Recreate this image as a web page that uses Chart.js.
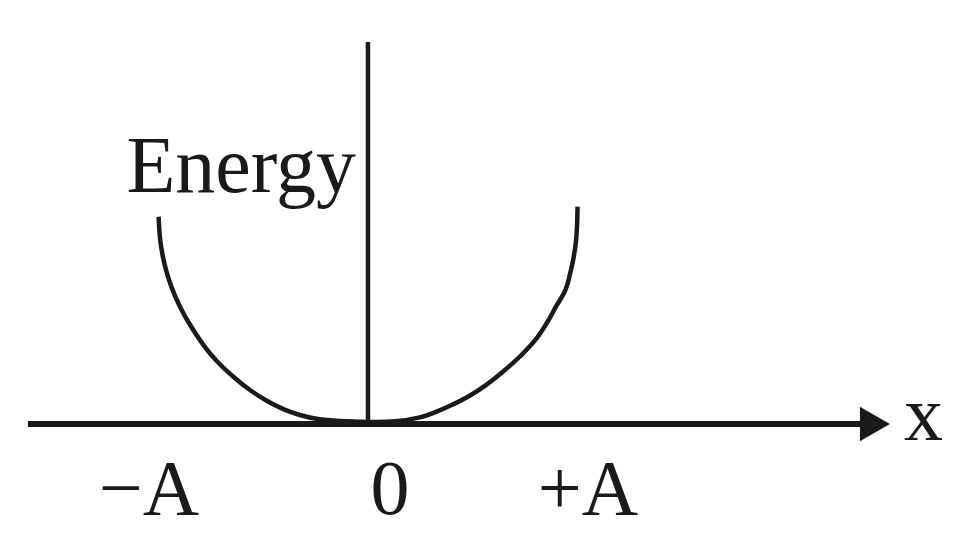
<!DOCTYPE html>
<html>
<head>
<meta charset="utf-8">
<title>Energy vs x</title>
<script src="https://cdn.jsdelivr.net/npm/chart.js@4.4.1/dist/chart.umd.min.js"></script>
<style>
  html, body { margin: 0; padding: 0; background: #ffffff; }
  #wrap { width: 964px; height: 557px; position: relative; }
</style>
</head>
<body>
<div id="wrap"><canvas id="energyChart"></canvas></div>
<script>
// curve, x in units of A, energy in the same units
const curveX = [-0.997, -0.990, -0.978, -0.959, -0.933, -0.899, -0.856, -0.783, -0.720, -0.641, -0.562,
                -0.482, -0.403, -0.324, -0.245, -0.133, 0,
                0.129, 0.248, 0.327, 0.406, 0.486, 0.565, 0.644, 0.726, 0.795, 0.851, 0.895,
                0.940, 0.963, 0.980, 0.991, 0.996, 0.998];
const curveY = [0.987, 0.884, 0.805, 0.725, 0.646, 0.567, 0.487, 0.376, 0.300, 0.225, 0.162,
                0.111, 0.071, 0.043, 0.025, 0.014, 0.010,
                0.013, 0.032, 0.059, 0.094, 0.136, 0.188, 0.250, 0.324, 0.398, 0.480, 0.559,
                0.638, 0.718, 0.797, 0.876, 0.956, 1.035];

// axis extents
const xAxisFrom = -1.619;
const xAxisTo = 2.36;
const arrowAt = 2.39;
const yAxisTop = 1.819;

// tick labels under the x axis
const tickValues = [-1, 0, 1];
const tickLabels = ['\u2212A', '0', '+A'];
const axisLabel = 'x';
const curveLabel = 'Energy';

const ink = '#1c1a19';

document.addEventListener("DOMContentLoaded", function() {
    const ctx = document.getElementById("energyChart").getContext("2d");

    const curvePoints = curveX.map((x, i) => ({ x: x, y: curveY[i] }));

    // text is drawn after the datasets, placed with the chart's own scales
    const labelPlugin = {
        id: 'labels',
        afterDatasetsDraw(chart) {
            const c = chart.ctx;
            const xs = chart.scales.x;
            const ys = chart.scales.y;
            const nudge = [-9, 22, 10];
            c.save();
            c.fillStyle = ink;
            c.font = '78px "Liberation Serif", "Times New Roman", serif';
            c.textBaseline = 'alphabetic';

            c.textAlign = 'center';
            tickValues.forEach((v, i) => {
                c.fillText(tickLabels[i], xs.getPixelForValue(v) + nudge[i], ys.getPixelForValue(0) + 90);
            });

            c.textAlign = 'left';
            c.fillText(axisLabel, xs.getPixelForValue(arrowAt) + 34, ys.getPixelForValue(0) + 16);

            c.font = '80px "Liberation Serif", "Times New Roman", serif';
            c.textAlign = 'right';
            c.fillText(curveLabel, xs.getPixelForValue(0) - 12, ys.getPixelForValue(1.105));
            c.restore();
        }
    };

    new Chart(ctx, {
        type: 'line',
        data: {
            datasets: [{
                label: 'Energy',
                data: curvePoints,
                borderColor: ink,
                borderWidth: 4.5,
                tension: 0.4,
                pointRadius: 0,
                order: 1
            },
            {
                label: 'x axis',
                data: [{ x: xAxisFrom, y: 0 }, { x: xAxisTo, y: 0 }],
                borderColor: ink,
                borderWidth: 6,
                pointRadius: 0,
                order: 2
            },
            {
                label: 'y axis',
                data: [{ x: 0, y: 0 }, { x: 0, y: yAxisTop }],
                borderColor: ink,
                borderWidth: 4.5,
                pointRadius: 0,
                order: 2
            },
            {
                label: 'arrow',
                data: [{ x: arrowAt, y: 0 }],
                showLine: false,
                pointStyle: 'triangle',
                rotation: 90,
                pointRadius: 20,
                backgroundColor: ink,
                borderWidth: 0,
                order: 0
            }]
        },
        options: {
            responsive: true,
            maintainAspectRatio: false,
            animation: false,
            events: [],
            layout: { padding: 0, autoPadding: false },
            plugins: {
                legend: { display: false },
                tooltip: { enabled: false }
            },
            scales: {
                x: { type: 'linear', min: -1.752, max: 2.838, display: false },
                y: { type: 'linear', min: -0.633, max: 2.019, display: false }
            }
        },
        plugins: [labelPlugin]
    });
});
</script>
</body>
</html>
